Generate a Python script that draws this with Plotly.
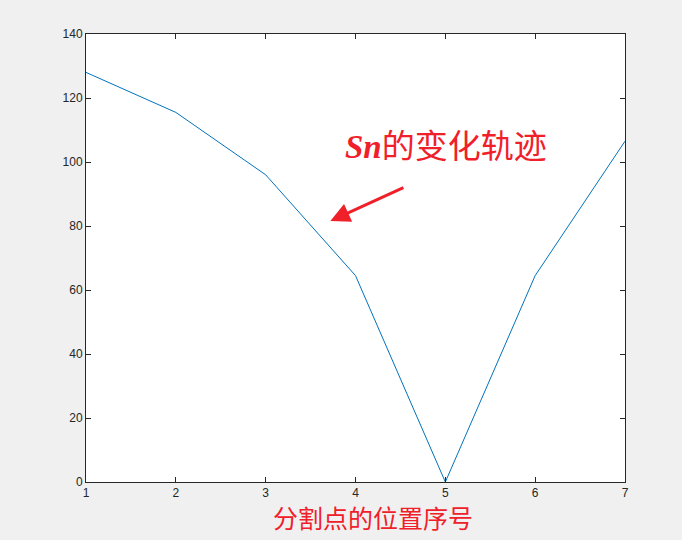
import plotly.graph_objects as go

# 分割点位置与 Sn 值
positions = [1, 2, 3, 4, 5, 6, 7]
sn_values = [128, 115.5, 96, 64.5, 0, 64.5, 106.5]

x_ticks = [1, 2, 3, 4, 5, 6, 7]
y_ticks = [0, 20, 40, 60, 80, 100, 120, 140]

red = "#f0202a"
axis_color = "#262626"

fig = go.Figure()

fig.add_trace(go.Scatter(
    x=positions,
    y=sn_values,
    mode="lines",
    line=dict(color="#0072BD", width=1),
    showlegend=False,
))

axis_style = dict(
    showline=True,
    linecolor=axis_color,
    linewidth=1,
    mirror="ticks",
    ticks="inside",
    ticklen=5,
    tickcolor=axis_color,
    showgrid=False,
    zeroline=False,
    tickfont=dict(family="Liberation Sans", size=12, color=axis_color),
)

fig.update_xaxes(range=[1, 7], tickvals=x_ticks, **axis_style)
fig.update_yaxes(range=[0, 140], tickvals=y_ticks, **axis_style)

# 标注文字
fig.add_annotation(
    x=0.477, y=0.755, xref="paper", yref="paper",
    text=('<span style="font-family:Liberation Serif"><b><i>Sn</i></b></span>'
          '的变化轨迹'),
    showarrow=False,
    xanchor="left", yanchor="middle",
    font=dict(family="Noto Sans CJK SC", size=33, color=red),
)

# 箭头
fig.add_annotation(
    x=3.72, y=81.6, xref="x", yref="y",
    ax=4.55, ay=92.2, axref="x", ayref="y",
    text="",
    showarrow=True,
    arrowhead=2,
    arrowsize=1.3,
    arrowwidth=3,
    arrowcolor=red,
)

# x 轴标题
fig.add_annotation(
    x=0.533, y=-0.078, xref="paper", yref="paper",
    text="分割点的位置序号",
    showarrow=False,
    xanchor="center", yanchor="middle",
    font=dict(family="Noto Sans CJK SC", size=25, color=red),
)

fig.update_layout(
    width=682,
    height=540,
    margin=dict(l=86, r=57, t=34, b=58),
    paper_bgcolor="#f0f0f0",
    plot_bgcolor="white",
)

fig.write_html("out.html", config={"displayModeBar": False},
               post_script="document.body.style.margin='0';")
